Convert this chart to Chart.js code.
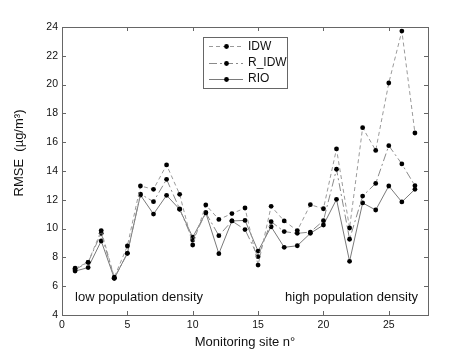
<!DOCTYPE html>
<html>
<head>
<meta charset="utf-8">
<script src="https://cdn.jsdelivr.net/npm/chart.js@4"></script>
<style>
html,body{margin:0;padding:0;background:#fff;}
#wrap{width:474px;height:355px;position:relative;}
</style>
</head>
<body>
<div id="wrap"><canvas id="c" width="474" height="355"></canvas></div>
<script>
// ---- data ----
const sites = [1,2,3,4,5,6,7,8,9,10,11,12,13,14,15,16,17,18,19,20,21,22,23,24,25,26,27];
const idw   = [7.25,7.66,9.86,6.62,8.79,12.96,12.73,14.42,12.38,8.86,11.64,10.64,11.04,11.43,7.47,11.55,10.53,9.86,11.66,11.38,15.53,10.04,17.01,15.43,20.11,23.72,16.64];
const rIdw  = [7.15,7.66,9.67,6.55,8.28,12.40,11.87,13.42,11.36,9.21,11.10,9.51,10.53,9.93,8.05,10.48,9.79,9.67,9.76,10.55,14.12,9.26,12.26,13.14,15.76,14.49,12.98];
const rio   = [7.05,7.29,9.14,6.55,8.28,12.33,11.01,12.31,11.34,9.40,11.10,8.26,10.53,10.57,8.44,10.13,8.70,8.81,9.67,10.25,12.03,7.73,11.78,11.29,12.96,11.85,12.73];
const seriesNames = ['IDW','R_IDW','RIO'];
const xTitle = 'Monitoring site n°';
const yTitle = 'RMSE  (µg/m³)';
const lowLabel = 'low population density';
const highLabel = 'high population density';

const FONT = '"Liberation Sans", Arial, Helvetica, sans-serif';
const styles = [
  {color:'#9a9a9a', dash:[4,3]},
  {color:'#8a8a8a', dash:[8,3,2,3]},
  {color:'#7a7a7a', dash:[]}
];
const toPts = arr => sites.map((s,i)=>({x:s,y:arr[i]}));
const dataSets = [idw, rIdw, rio].map((arr,k)=>({
  label: seriesNames[k],
  data: toPts(arr),
  borderColor: styles[k].color,
  borderDash: styles[k].dash,
  borderWidth: 1,
  pointRadius: 2.4,
  pointBackgroundColor: '#000',
  pointBorderWidth: 0,
  tension: 0,
  fill: false
}));

const deco = {
  id: 'deco',
  afterDraw(chart) {
    const ctx = chart.ctx, a = chart.chartArea;
    const xs = chart.scales.x, ys = chart.scales.y;
    ctx.save();
    // box
    ctx.strokeStyle = '#666';
    ctx.lineWidth = 1;
    ctx.strokeRect(Math.round(a.left)+0.5, Math.round(a.top)+0.5, Math.round(a.right-a.left), Math.round(a.bottom-a.top));
    // inward ticks
    const tl = 4;
    ctx.beginPath();
    xs.ticks.forEach(t => {
      const px = Math.round(xs.getPixelForValue(t.value))+0.5;
      ctx.moveTo(px, a.bottom); ctx.lineTo(px, a.bottom - tl);
      ctx.moveTo(px, a.top); ctx.lineTo(px, a.top + tl);
    });
    ys.ticks.forEach(t => {
      const py = Math.round(ys.getPixelForValue(t.value))+0.5;
      ctx.moveTo(a.left, py); ctx.lineTo(a.left + tl, py);
      ctx.moveTo(a.right, py); ctx.lineTo(a.right - tl, py);
    });
    ctx.stroke();
    // annotations
    ctx.fillStyle = '#111';
    ctx.font = '13px ' + FONT;
    ctx.textBaseline = 'middle';
    ctx.textAlign = 'left';
    ctx.fillText(lowLabel, xs.getPixelForValue(1), ys.getPixelForValue(5.25));
    ctx.textAlign = 'right';
    ctx.fillText(highLabel, a.right - 10, ys.getPixelForValue(5.25));
    // axis titles
    ctx.textAlign = 'center';
    ctx.fillText(xTitle, (a.left + a.right)/2, 342);
    ctx.save();
    ctx.translate(19, 153);
    ctx.rotate(-Math.PI/2);
    ctx.fillText(yTitle, 0, 0);
    ctx.restore();
    // legend
    const L = {x:203, y:37, w:84, h:51};
    ctx.fillStyle = '#fff';
    ctx.fillRect(L.x, L.y, L.w, L.h);
    ctx.strokeStyle = '#666';
    ctx.strokeRect(L.x+0.5, L.y+0.5, L.w, L.h);
    const rows = [46, 62.5, 78.5];
    seriesNames.forEach((n,k) => {
      const y = L.y + rows[k] - 37;
      ctx.strokeStyle = styles[k].color;
      ctx.setLineDash(styles[k].dash);
      ctx.beginPath();
      ctx.moveTo(209, Math.round(y)+0.5); ctx.lineTo(243, Math.round(y)+0.5);
      ctx.stroke();
      ctx.setLineDash([]);
      ctx.fillStyle = '#000';
      ctx.beginPath(); ctx.arc(226.5, Math.round(y)+0.5, 2.4, 0, Math.PI*2); ctx.fill();
      ctx.fillStyle = '#111';
      ctx.textAlign = 'left';
      ctx.font = '12px ' + FONT;
      ctx.fillText(n, 248, y+0.5);
    });
    ctx.restore();
  }
};

new Chart(document.getElementById('c'), {
  type: 'line',
  data: { datasets: dataSets },
  options: {
    responsive: false,
    animation: false,
    devicePixelRatio: 1,
    layout: { padding: { left: 0, top: 27, right: 46, bottom: 0 } },
    plugins: { legend: { display: false }, tooltip: { enabled: false } },
    scales: {
      x: {
        type: 'linear', min: 0, max: 28,
        grid: { display: false, drawTicks: false },
        border: { display: false },
        ticks: { stepSize: 5, includeBounds: false, color: '#111', padding: 4,
                 font: { family: FONT, size: 10.5 }, maxRotation: 0 },
        afterFit(s) { s.height = 40; }
      },
      y: {
        type: 'linear', min: 4, max: 24,
        grid: { display: false, drawTicks: false },
        border: { display: false },
        ticks: { stepSize: 2, color: '#111', padding: 4,
                 font: { family: FONT, size: 10.5 } },
        afterFit(s) { s.width = 62; }
      }
    }
  },
  plugins: [deco]
});
</script>
</body>
</html>
